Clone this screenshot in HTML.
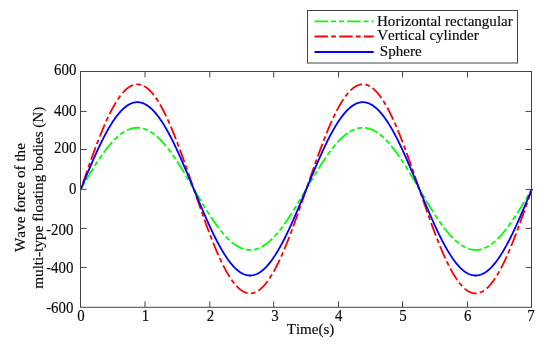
<!DOCTYPE html>
<html><head><meta charset="utf-8"><title>Wave force</title>
<style>html,body{margin:0;padding:0;background:#fff}svg{display:block}text{font-family:"Liberation Serif","Times New Roman",serif;font-size:16px;font-kerning:none;fill:#0a0a0a;stroke:#0a0a0a;stroke-width:0.15px}</style></head><body>
<svg width="550" height="344" viewBox="0 0 550 344">
<rect width="550" height="344" fill="#fff"/>
<g fill="none" stroke-width="1.8" stroke-linejoin="round">
<path d="M80.95,188.85 L81.59,187.75 L82.24,186.66 L82.88,185.56 L83.53,184.47 L84.17,183.37 L84.82,182.28 L85.46,181.19 L86.10,180.10 L86.75,179.02 L87.39,177.94 L88.04,176.86 L88.68,175.79 L89.33,174.72 L89.97,173.65 L90.61,172.59 L91.26,171.54 L91.90,170.49 L92.55,169.44 L93.19,168.41 L93.84,167.38 L94.48,166.35 L95.12,165.34 L95.77,164.33 L96.41,163.33 L97.06,162.33 L97.70,161.35 L98.35,160.38 L98.99,159.41 L99.63,158.45 L100.28,157.51 L100.92,156.57 L101.57,155.64 L102.21,154.73 L102.86,153.82 L103.50,152.93 L104.14,152.05 L104.79,151.18 L105.43,150.32 L106.08,149.47 L106.72,148.64 L107.37,147.82 L108.01,147.02 L108.65,146.22 L109.30,145.44 L109.94,144.68 L110.59,143.93 L111.23,143.19 L111.88,142.47 L112.52,141.76 L113.16,141.07 L113.81,140.39 L114.45,139.73 L115.10,139.09 L115.74,138.46 L116.39,137.85 L117.03,137.25 L117.67,136.67 L118.32,136.11 L118.96,135.56 L119.61,135.04 L120.25,134.52 L120.90,134.03 L121.54,133.55 L122.18,133.10 L122.83,132.66 L123.47,132.23 L124.12,131.83 L124.76,131.44 L125.41,131.08 L126.05,130.73 L126.69,130.40 L127.34,130.09 L127.98,129.80 L128.63,129.52 L129.27,129.27 L129.92,129.04 L130.56,128.82 L131.20,128.63 L131.85,128.45 L132.49,128.29 L133.14,128.15 L133.78,128.04 L134.43,127.94 L135.07,127.86 L135.71,127.80 L136.36,127.76 L137.00,127.74 L137.65,127.74 L138.29,127.76 L138.94,127.80 L139.58,127.86 L140.22,127.94 L140.87,128.04 L141.51,128.15 L142.16,128.29 L142.80,128.45 L143.45,128.63 L144.09,128.82 L144.73,129.04 L145.38,129.27 L146.02,129.52 L146.67,129.80 L147.31,130.09 L147.96,130.40 L148.60,130.73 L149.24,131.08 L149.89,131.44 L150.53,131.83 L151.18,132.23 L151.82,132.66 L152.47,133.10 L153.11,133.55 L153.75,134.03 L154.40,134.52 L155.04,135.04 L155.69,135.56 L156.33,136.11 L156.98,136.67 L157.62,137.25 L158.26,137.85 L158.91,138.46 L159.55,139.09 L160.20,139.73 L160.84,140.39 L161.49,141.07 L162.13,141.76 L162.77,142.47 L163.42,143.19 L164.06,143.93 L164.71,144.68 L165.35,145.44 L166.00,146.22 L166.64,147.02 L167.28,147.82 L167.93,148.64 L168.57,149.47 L169.22,150.32 L169.86,151.18 L170.51,152.05 L171.15,152.93 L171.79,153.82 L172.44,154.73 L173.08,155.64 L173.73,156.57 L174.37,157.51 L175.02,158.45 L175.66,159.41 L176.30,160.38 L176.95,161.35 L177.59,162.33 L178.24,163.33 L178.88,164.33 L179.53,165.34 L180.17,166.35 L180.81,167.38 L181.46,168.41 L182.10,169.44 L182.75,170.49 L183.39,171.54 L184.04,172.59 L184.68,173.65 L185.32,174.72 L185.97,175.79 L186.61,176.86 L187.26,177.94 L187.90,179.02 L188.55,180.10 L189.19,181.19 L189.83,182.28 L190.48,183.37 L191.12,184.47 L191.77,185.56 L192.41,186.66 L193.06,187.75 L193.70,188.85 L194.34,189.95 L194.99,191.04 L195.63,192.14 L196.28,193.23 L196.92,194.33 L197.57,195.42 L198.21,196.51 L198.85,197.60 L199.50,198.68 L200.14,199.76 L200.79,200.84 L201.43,201.91 L202.08,202.98 L202.72,204.05 L203.36,205.11 L204.01,206.16 L204.65,207.21 L205.30,208.26 L205.94,209.29 L206.59,210.32 L207.23,211.35 L207.87,212.36 L208.52,213.37 L209.16,214.37 L209.81,215.37 L210.45,216.35 L211.10,217.32 L211.74,218.29 L212.38,219.25 L213.03,220.19 L213.67,221.13 L214.32,222.06 L214.96,222.97 L215.61,223.88 L216.25,224.77 L216.89,225.65 L217.54,226.52 L218.18,227.38 L218.83,228.23 L219.47,229.06 L220.12,229.88 L220.76,230.68 L221.40,231.48 L222.05,232.26 L222.69,233.02 L223.34,233.77 L223.98,234.51 L224.63,235.23 L225.27,235.94 L225.91,236.63 L226.56,237.31 L227.20,237.97 L227.85,238.61 L228.49,239.24 L229.14,239.85 L229.78,240.45 L230.42,241.03 L231.07,241.59 L231.71,242.14 L232.36,242.66 L233.00,243.18 L233.65,243.67 L234.29,244.15 L234.93,244.60 L235.58,245.04 L236.22,245.47 L236.87,245.87 L237.51,246.26 L238.16,246.62 L238.80,246.97 L239.44,247.30 L240.09,247.61 L240.73,247.90 L241.38,248.18 L242.02,248.43 L242.67,248.66 L243.31,248.88 L243.95,249.07 L244.60,249.25 L245.24,249.41 L245.89,249.55 L246.53,249.66 L247.18,249.76 L247.82,249.84 L248.46,249.90 L249.11,249.94 L249.75,249.96 L250.40,249.96 L251.04,249.94 L251.69,249.90 L252.33,249.84 L252.97,249.76 L253.62,249.66 L254.26,249.55 L254.91,249.41 L255.55,249.25 L256.20,249.07 L256.84,248.88 L257.48,248.66 L258.13,248.43 L258.77,248.18 L259.42,247.90 L260.06,247.61 L260.71,247.30 L261.35,246.97 L261.99,246.62 L262.64,246.26 L263.28,245.87 L263.93,245.47 L264.57,245.04 L265.22,244.60 L265.86,244.15 L266.50,243.67 L267.15,243.18 L267.79,242.66 L268.44,242.14 L269.08,241.59 L269.73,241.03 L270.37,240.45 L271.01,239.85 L271.66,239.24 L272.30,238.61 L272.95,237.97 L273.59,237.31 L274.24,236.63 L274.88,235.94 L275.52,235.23 L276.17,234.51 L276.81,233.77 L277.46,233.02 L278.10,232.26 L278.75,231.48 L279.39,230.68 L280.03,229.88 L280.68,229.06 L281.32,228.23 L281.97,227.38 L282.61,226.52 L283.26,225.65 L283.90,224.77 L284.54,223.88 L285.19,222.97 L285.83,222.06 L286.48,221.13 L287.12,220.19 L287.77,219.25 L288.41,218.29 L289.05,217.32 L289.70,216.35 L290.34,215.37 L290.99,214.37 L291.63,213.37 L292.28,212.36 L292.92,211.35 L293.56,210.32 L294.21,209.29 L294.85,208.26 L295.50,207.21 L296.14,206.16 L296.79,205.11 L297.43,204.05 L298.07,202.98 L298.72,201.91 L299.36,200.84 L300.01,199.76 L300.65,198.68 L301.30,197.60 L301.94,196.51 L302.58,195.42 L303.23,194.33 L303.87,193.23 L304.52,192.14 L305.16,191.04 L305.81,189.95 L306.45,188.85 L307.09,187.75 L307.74,186.66 L308.38,185.56 L309.03,184.47 L309.67,183.37 L310.32,182.28 L310.96,181.19 L311.60,180.10 L312.25,179.02 L312.89,177.94 L313.54,176.86 L314.18,175.79 L314.83,174.72 L315.47,173.65 L316.11,172.59 L316.76,171.54 L317.40,170.49 L318.05,169.44 L318.69,168.41 L319.34,167.38 L319.98,166.35 L320.62,165.34 L321.27,164.33 L321.91,163.33 L322.56,162.33 L323.20,161.35 L323.85,160.38 L324.49,159.41 L325.13,158.45 L325.78,157.51 L326.42,156.57 L327.07,155.64 L327.71,154.73 L328.36,153.82 L329.00,152.93 L329.64,152.05 L330.29,151.18 L330.93,150.32 L331.58,149.47 L332.22,148.64 L332.87,147.82 L333.51,147.02 L334.15,146.22 L334.80,145.44 L335.44,144.68 L336.09,143.93 L336.73,143.19 L337.38,142.47 L338.02,141.76 L338.66,141.07 L339.31,140.39 L339.95,139.73 L340.60,139.09 L341.24,138.46 L341.89,137.85 L342.53,137.25 L343.17,136.67 L343.82,136.11 L344.46,135.56 L345.11,135.04 L345.75,134.52 L346.40,134.03 L347.04,133.55 L347.68,133.10 L348.33,132.66 L348.97,132.23 L349.62,131.83 L350.26,131.44 L350.91,131.08 L351.55,130.73 L352.19,130.40 L352.84,130.09 L353.48,129.80 L354.13,129.52 L354.77,129.27 L355.42,129.04 L356.06,128.82 L356.70,128.63 L357.35,128.45 L357.99,128.29 L358.64,128.15 L359.28,128.04 L359.93,127.94 L360.57,127.86 L361.21,127.80 L361.86,127.76 L362.50,127.74 L363.15,127.74 L363.79,127.76 L364.44,127.80 L365.08,127.86 L365.72,127.94 L366.37,128.04 L367.01,128.15 L367.66,128.29 L368.30,128.45 L368.95,128.63 L369.59,128.82 L370.23,129.04 L370.88,129.27 L371.52,129.52 L372.17,129.80 L372.81,130.09 L373.46,130.40 L374.10,130.73 L374.74,131.08 L375.39,131.44 L376.03,131.83 L376.68,132.23 L377.32,132.66 L377.97,133.10 L378.61,133.55 L379.25,134.03 L379.90,134.52 L380.54,135.04 L381.19,135.56 L381.83,136.11 L382.48,136.67 L383.12,137.25 L383.76,137.85 L384.41,138.46 L385.05,139.09 L385.70,139.73 L386.34,140.39 L386.99,141.07 L387.63,141.76 L388.27,142.47 L388.92,143.19 L389.56,143.93 L390.21,144.68 L390.85,145.44 L391.50,146.22 L392.14,147.02 L392.78,147.82 L393.43,148.64 L394.07,149.47 L394.72,150.32 L395.36,151.18 L396.01,152.05 L396.65,152.93 L397.29,153.82 L397.94,154.73 L398.58,155.64 L399.23,156.57 L399.87,157.51 L400.52,158.45 L401.16,159.41 L401.80,160.38 L402.45,161.35 L403.09,162.33 L403.74,163.33 L404.38,164.33 L405.03,165.34 L405.67,166.35 L406.31,167.38 L406.96,168.41 L407.60,169.44 L408.25,170.49 L408.89,171.54 L409.54,172.59 L410.18,173.65 L410.82,174.72 L411.47,175.79 L412.11,176.86 L412.76,177.94 L413.40,179.02 L414.05,180.10 L414.69,181.19 L415.33,182.28 L415.98,183.37 L416.62,184.47 L417.27,185.56 L417.91,186.66 L418.56,187.75 L419.20,188.85 L419.84,189.95 L420.49,191.04 L421.13,192.14 L421.78,193.23 L422.42,194.33 L423.07,195.42 L423.71,196.51 L424.35,197.60 L425.00,198.68 L425.64,199.76 L426.29,200.84 L426.93,201.91 L427.58,202.98 L428.22,204.05 L428.86,205.11 L429.51,206.16 L430.15,207.21 L430.80,208.26 L431.44,209.29 L432.09,210.32 L432.73,211.35 L433.37,212.36 L434.02,213.37 L434.66,214.37 L435.31,215.37 L435.95,216.35 L436.60,217.32 L437.24,218.29 L437.88,219.25 L438.53,220.19 L439.17,221.13 L439.82,222.06 L440.46,222.97 L441.11,223.88 L441.75,224.77 L442.39,225.65 L443.04,226.52 L443.68,227.38 L444.33,228.23 L444.97,229.06 L445.62,229.88 L446.26,230.68 L446.90,231.48 L447.55,232.26 L448.19,233.02 L448.84,233.77 L449.48,234.51 L450.13,235.23 L450.77,235.94 L451.41,236.63 L452.06,237.31 L452.70,237.97 L453.35,238.61 L453.99,239.24 L454.64,239.85 L455.28,240.45 L455.92,241.03 L456.57,241.59 L457.21,242.14 L457.86,242.66 L458.50,243.18 L459.15,243.67 L459.79,244.15 L460.43,244.60 L461.08,245.04 L461.72,245.47 L462.37,245.87 L463.01,246.26 L463.66,246.62 L464.30,246.97 L464.94,247.30 L465.59,247.61 L466.23,247.90 L466.88,248.18 L467.52,248.43 L468.17,248.66 L468.81,248.88 L469.45,249.07 L470.10,249.25 L470.74,249.41 L471.39,249.55 L472.03,249.66 L472.68,249.76 L473.32,249.84 L473.96,249.90 L474.61,249.94 L475.25,249.96 L475.90,249.96 L476.54,249.94 L477.19,249.90 L477.83,249.84 L478.47,249.76 L479.12,249.66 L479.76,249.55 L480.41,249.41 L481.05,249.25 L481.70,249.07 L482.34,248.88 L482.98,248.66 L483.63,248.43 L484.27,248.18 L484.92,247.90 L485.56,247.61 L486.21,247.30 L486.85,246.97 L487.49,246.62 L488.14,246.26 L488.78,245.87 L489.43,245.47 L490.07,245.04 L490.72,244.60 L491.36,244.15 L492.00,243.67 L492.65,243.18 L493.29,242.66 L493.94,242.14 L494.58,241.59 L495.23,241.03 L495.87,240.45 L496.51,239.85 L497.16,239.24 L497.80,238.61 L498.45,237.97 L499.09,237.31 L499.74,236.63 L500.38,235.94 L501.02,235.23 L501.67,234.51 L502.31,233.77 L502.96,233.02 L503.60,232.26 L504.25,231.48 L504.89,230.68 L505.53,229.88 L506.18,229.06 L506.82,228.23 L507.47,227.38 L508.11,226.52 L508.76,225.65 L509.40,224.77 L510.04,223.88 L510.69,222.97 L511.33,222.06 L511.98,221.13 L512.62,220.19 L513.27,219.25 L513.91,218.29 L514.55,217.32 L515.20,216.35 L515.84,215.37 L516.49,214.37 L517.13,213.37 L517.78,212.36 L518.42,211.35 L519.06,210.32 L519.71,209.29 L520.35,208.26 L521.00,207.21 L521.64,206.16 L522.29,205.11 L522.93,204.05 L523.57,202.98 L524.22,201.91 L524.86,200.84 L525.51,199.76 L526.15,198.68 L526.80,197.60 L527.44,196.51 L528.08,195.42 L528.73,194.33 L529.37,193.23 L530.02,192.14 L530.66,191.04 L531.31,189.95 L531.95,188.85" stroke="#00ff00" stroke-dasharray="13.5 3 5 3 5 3" stroke-dashoffset="22.16"/>
<path d="M80.95,188.85 L81.59,186.97 L82.24,185.10 L82.88,183.22 L83.53,181.35 L84.17,179.48 L84.82,177.61 L85.46,175.75 L86.10,173.89 L86.75,172.03 L87.39,170.18 L88.04,168.34 L88.68,166.50 L89.33,164.67 L89.97,162.85 L90.61,161.04 L91.26,159.23 L91.90,157.44 L92.55,155.65 L93.19,153.88 L93.84,152.12 L94.48,150.37 L95.12,148.63 L95.77,146.90 L96.41,145.19 L97.06,143.49 L97.70,141.81 L98.35,140.14 L98.99,138.49 L99.63,136.85 L100.28,135.23 L100.92,133.63 L101.57,132.05 L102.21,130.48 L102.86,128.93 L103.50,127.40 L104.14,125.90 L104.79,124.41 L105.43,122.94 L106.08,121.49 L106.72,120.07 L107.37,118.67 L108.01,117.29 L108.65,115.93 L109.30,114.60 L109.94,113.29 L110.59,112.01 L111.23,110.75 L111.88,109.51 L112.52,108.30 L113.16,107.12 L113.81,105.96 L114.45,104.83 L115.10,103.73 L115.74,102.65 L116.39,101.61 L117.03,100.59 L117.67,99.59 L118.32,98.63 L118.96,97.70 L119.61,96.79 L120.25,95.92 L120.90,95.08 L121.54,94.26 L122.18,93.48 L122.83,92.72 L123.47,92.00 L124.12,91.31 L124.76,90.65 L125.41,90.02 L126.05,89.43 L126.69,88.86 L127.34,88.33 L127.98,87.83 L128.63,87.37 L129.27,86.93 L129.92,86.53 L130.56,86.16 L131.20,85.83 L131.85,85.53 L132.49,85.26 L133.14,85.02 L133.78,84.82 L134.43,84.65 L135.07,84.52 L135.71,84.42 L136.36,84.35 L137.00,84.32 L137.65,84.32 L138.29,84.35 L138.94,84.42 L139.58,84.52 L140.22,84.65 L140.87,84.82 L141.51,85.02 L142.16,85.26 L142.80,85.53 L143.45,85.83 L144.09,86.16 L144.73,86.53 L145.38,86.93 L146.02,87.37 L146.67,87.83 L147.31,88.33 L147.96,88.86 L148.60,89.43 L149.24,90.02 L149.89,90.65 L150.53,91.31 L151.18,92.00 L151.82,92.72 L152.47,93.48 L153.11,94.26 L153.75,95.08 L154.40,95.92 L155.04,96.79 L155.69,97.70 L156.33,98.63 L156.98,99.59 L157.62,100.59 L158.26,101.61 L158.91,102.65 L159.55,103.73 L160.20,104.83 L160.84,105.96 L161.49,107.12 L162.13,108.30 L162.77,109.51 L163.42,110.75 L164.06,112.01 L164.71,113.29 L165.35,114.60 L166.00,115.93 L166.64,117.29 L167.28,118.67 L167.93,120.07 L168.57,121.49 L169.22,122.94 L169.86,124.41 L170.51,125.90 L171.15,127.40 L171.79,128.93 L172.44,130.48 L173.08,132.05 L173.73,133.63 L174.37,135.23 L175.02,136.85 L175.66,138.49 L176.30,140.14 L176.95,141.81 L177.59,143.49 L178.24,145.19 L178.88,146.90 L179.53,148.63 L180.17,150.37 L180.81,152.12 L181.46,153.88 L182.10,155.65 L182.75,157.44 L183.39,159.23 L184.04,161.04 L184.68,162.85 L185.32,164.67 L185.97,166.50 L186.61,168.34 L187.26,170.18 L187.90,172.03 L188.55,173.89 L189.19,175.75 L189.83,177.61 L190.48,179.48 L191.12,181.35 L191.77,183.22 L192.41,185.10 L193.06,186.97 L193.70,188.85 L194.34,190.73 L194.99,192.60 L195.63,194.48 L196.28,196.35 L196.92,198.22 L197.57,200.09 L198.21,201.95 L198.85,203.81 L199.50,205.67 L200.14,207.52 L200.79,209.36 L201.43,211.20 L202.08,213.03 L202.72,214.85 L203.36,216.66 L204.01,218.47 L204.65,220.26 L205.30,222.05 L205.94,223.82 L206.59,225.58 L207.23,227.33 L207.87,229.07 L208.52,230.80 L209.16,232.51 L209.81,234.21 L210.45,235.89 L211.10,237.56 L211.74,239.21 L212.38,240.85 L213.03,242.47 L213.67,244.07 L214.32,245.65 L214.96,247.22 L215.61,248.77 L216.25,250.30 L216.89,251.80 L217.54,253.29 L218.18,254.76 L218.83,256.21 L219.47,257.63 L220.12,259.03 L220.76,260.41 L221.40,261.77 L222.05,263.10 L222.69,264.41 L223.34,265.69 L223.98,266.95 L224.63,268.19 L225.27,269.40 L225.91,270.58 L226.56,271.74 L227.20,272.87 L227.85,273.97 L228.49,275.05 L229.14,276.09 L229.78,277.11 L230.42,278.11 L231.07,279.07 L231.71,280.00 L232.36,280.91 L233.00,281.78 L233.65,282.62 L234.29,283.44 L234.93,284.22 L235.58,284.98 L236.22,285.70 L236.87,286.39 L237.51,287.05 L238.16,287.68 L238.80,288.27 L239.44,288.84 L240.09,289.37 L240.73,289.87 L241.38,290.33 L242.02,290.77 L242.67,291.17 L243.31,291.54 L243.95,291.87 L244.60,292.17 L245.24,292.44 L245.89,292.68 L246.53,292.88 L247.18,293.05 L247.82,293.18 L248.46,293.28 L249.11,293.35 L249.75,293.38 L250.40,293.38 L251.04,293.35 L251.69,293.28 L252.33,293.18 L252.97,293.05 L253.62,292.88 L254.26,292.68 L254.91,292.44 L255.55,292.17 L256.20,291.87 L256.84,291.54 L257.48,291.17 L258.13,290.77 L258.77,290.33 L259.42,289.87 L260.06,289.37 L260.71,288.84 L261.35,288.27 L261.99,287.68 L262.64,287.05 L263.28,286.39 L263.93,285.70 L264.57,284.98 L265.22,284.22 L265.86,283.44 L266.50,282.62 L267.15,281.78 L267.79,280.91 L268.44,280.00 L269.08,279.07 L269.73,278.11 L270.37,277.11 L271.01,276.09 L271.66,275.05 L272.30,273.97 L272.95,272.87 L273.59,271.74 L274.24,270.58 L274.88,269.40 L275.52,268.19 L276.17,266.95 L276.81,265.69 L277.46,264.41 L278.10,263.10 L278.75,261.77 L279.39,260.41 L280.03,259.03 L280.68,257.63 L281.32,256.21 L281.97,254.76 L282.61,253.29 L283.26,251.80 L283.90,250.30 L284.54,248.77 L285.19,247.22 L285.83,245.65 L286.48,244.07 L287.12,242.47 L287.77,240.85 L288.41,239.21 L289.05,237.56 L289.70,235.89 L290.34,234.21 L290.99,232.51 L291.63,230.80 L292.28,229.07 L292.92,227.33 L293.56,225.58 L294.21,223.82 L294.85,222.05 L295.50,220.26 L296.14,218.47 L296.79,216.66 L297.43,214.85 L298.07,213.03 L298.72,211.20 L299.36,209.36 L300.01,207.52 L300.65,205.67 L301.30,203.81 L301.94,201.95 L302.58,200.09 L303.23,198.22 L303.87,196.35 L304.52,194.48 L305.16,192.60 L305.81,190.73 L306.45,188.85 L307.09,186.97 L307.74,185.10 L308.38,183.22 L309.03,181.35 L309.67,179.48 L310.32,177.61 L310.96,175.75 L311.60,173.89 L312.25,172.03 L312.89,170.18 L313.54,168.34 L314.18,166.50 L314.83,164.67 L315.47,162.85 L316.11,161.04 L316.76,159.23 L317.40,157.44 L318.05,155.65 L318.69,153.88 L319.34,152.12 L319.98,150.37 L320.62,148.63 L321.27,146.90 L321.91,145.19 L322.56,143.49 L323.20,141.81 L323.85,140.14 L324.49,138.49 L325.13,136.85 L325.78,135.23 L326.42,133.63 L327.07,132.05 L327.71,130.48 L328.36,128.93 L329.00,127.40 L329.64,125.90 L330.29,124.41 L330.93,122.94 L331.58,121.49 L332.22,120.07 L332.87,118.67 L333.51,117.29 L334.15,115.93 L334.80,114.60 L335.44,113.29 L336.09,112.01 L336.73,110.75 L337.38,109.51 L338.02,108.30 L338.66,107.12 L339.31,105.96 L339.95,104.83 L340.60,103.73 L341.24,102.65 L341.89,101.61 L342.53,100.59 L343.17,99.59 L343.82,98.63 L344.46,97.70 L345.11,96.79 L345.75,95.92 L346.40,95.08 L347.04,94.26 L347.68,93.48 L348.33,92.72 L348.97,92.00 L349.62,91.31 L350.26,90.65 L350.91,90.02 L351.55,89.43 L352.19,88.86 L352.84,88.33 L353.48,87.83 L354.13,87.37 L354.77,86.93 L355.42,86.53 L356.06,86.16 L356.70,85.83 L357.35,85.53 L357.99,85.26 L358.64,85.02 L359.28,84.82 L359.93,84.65 L360.57,84.52 L361.21,84.42 L361.86,84.35 L362.50,84.32 L363.15,84.32 L363.79,84.35 L364.44,84.42 L365.08,84.52 L365.72,84.65 L366.37,84.82 L367.01,85.02 L367.66,85.26 L368.30,85.53 L368.95,85.83 L369.59,86.16 L370.23,86.53 L370.88,86.93 L371.52,87.37 L372.17,87.83 L372.81,88.33 L373.46,88.86 L374.10,89.43 L374.74,90.02 L375.39,90.65 L376.03,91.31 L376.68,92.00 L377.32,92.72 L377.97,93.48 L378.61,94.26 L379.25,95.08 L379.90,95.92 L380.54,96.79 L381.19,97.70 L381.83,98.63 L382.48,99.59 L383.12,100.59 L383.76,101.61 L384.41,102.65 L385.05,103.73 L385.70,104.83 L386.34,105.96 L386.99,107.12 L387.63,108.30 L388.27,109.51 L388.92,110.75 L389.56,112.01 L390.21,113.29 L390.85,114.60 L391.50,115.93 L392.14,117.29 L392.78,118.67 L393.43,120.07 L394.07,121.49 L394.72,122.94 L395.36,124.41 L396.01,125.90 L396.65,127.40 L397.29,128.93 L397.94,130.48 L398.58,132.05 L399.23,133.63 L399.87,135.23 L400.52,136.85 L401.16,138.49 L401.80,140.14 L402.45,141.81 L403.09,143.49 L403.74,145.19 L404.38,146.90 L405.03,148.63 L405.67,150.37 L406.31,152.12 L406.96,153.88 L407.60,155.65 L408.25,157.44 L408.89,159.23 L409.54,161.04 L410.18,162.85 L410.82,164.67 L411.47,166.50 L412.11,168.34 L412.76,170.18 L413.40,172.03 L414.05,173.89 L414.69,175.75 L415.33,177.61 L415.98,179.48 L416.62,181.35 L417.27,183.22 L417.91,185.10 L418.56,186.97 L419.20,188.85 L419.84,190.73 L420.49,192.60 L421.13,194.48 L421.78,196.35 L422.42,198.22 L423.07,200.09 L423.71,201.95 L424.35,203.81 L425.00,205.67 L425.64,207.52 L426.29,209.36 L426.93,211.20 L427.58,213.03 L428.22,214.85 L428.86,216.66 L429.51,218.47 L430.15,220.26 L430.80,222.05 L431.44,223.82 L432.09,225.58 L432.73,227.33 L433.37,229.07 L434.02,230.80 L434.66,232.51 L435.31,234.21 L435.95,235.89 L436.60,237.56 L437.24,239.21 L437.88,240.85 L438.53,242.47 L439.17,244.07 L439.82,245.65 L440.46,247.22 L441.11,248.77 L441.75,250.30 L442.39,251.80 L443.04,253.29 L443.68,254.76 L444.33,256.21 L444.97,257.63 L445.62,259.03 L446.26,260.41 L446.90,261.77 L447.55,263.10 L448.19,264.41 L448.84,265.69 L449.48,266.95 L450.13,268.19 L450.77,269.40 L451.41,270.58 L452.06,271.74 L452.70,272.87 L453.35,273.97 L453.99,275.05 L454.64,276.09 L455.28,277.11 L455.92,278.11 L456.57,279.07 L457.21,280.00 L457.86,280.91 L458.50,281.78 L459.15,282.62 L459.79,283.44 L460.43,284.22 L461.08,284.98 L461.72,285.70 L462.37,286.39 L463.01,287.05 L463.66,287.68 L464.30,288.27 L464.94,288.84 L465.59,289.37 L466.23,289.87 L466.88,290.33 L467.52,290.77 L468.17,291.17 L468.81,291.54 L469.45,291.87 L470.10,292.17 L470.74,292.44 L471.39,292.68 L472.03,292.88 L472.68,293.05 L473.32,293.18 L473.96,293.28 L474.61,293.35 L475.25,293.38 L475.90,293.38 L476.54,293.35 L477.19,293.28 L477.83,293.18 L478.47,293.05 L479.12,292.88 L479.76,292.68 L480.41,292.44 L481.05,292.17 L481.70,291.87 L482.34,291.54 L482.98,291.17 L483.63,290.77 L484.27,290.33 L484.92,289.87 L485.56,289.37 L486.21,288.84 L486.85,288.27 L487.49,287.68 L488.14,287.05 L488.78,286.39 L489.43,285.70 L490.07,284.98 L490.72,284.22 L491.36,283.44 L492.00,282.62 L492.65,281.78 L493.29,280.91 L493.94,280.00 L494.58,279.07 L495.23,278.11 L495.87,277.11 L496.51,276.09 L497.16,275.05 L497.80,273.97 L498.45,272.87 L499.09,271.74 L499.74,270.58 L500.38,269.40 L501.02,268.19 L501.67,266.95 L502.31,265.69 L502.96,264.41 L503.60,263.10 L504.25,261.77 L504.89,260.41 L505.53,259.03 L506.18,257.63 L506.82,256.21 L507.47,254.76 L508.11,253.29 L508.76,251.80 L509.40,250.30 L510.04,248.77 L510.69,247.22 L511.33,245.65 L511.98,244.07 L512.62,242.47 L513.27,240.85 L513.91,239.21 L514.55,237.56 L515.20,235.89 L515.84,234.21 L516.49,232.51 L517.13,230.80 L517.78,229.07 L518.42,227.33 L519.06,225.58 L519.71,223.82 L520.35,222.05 L521.00,220.26 L521.64,218.47 L522.29,216.66 L522.93,214.85 L523.57,213.03 L524.22,211.20 L524.86,209.36 L525.51,207.52 L526.15,205.67 L526.80,203.81 L527.44,201.95 L528.08,200.09 L528.73,198.22 L529.37,196.35 L530.02,194.48 L530.66,192.60 L531.31,190.73 L531.95,188.85" stroke="#ff0000" stroke-dasharray="13.4 3.3 4.7 3.3" stroke-dashoffset="18.64"/>
<path d="M80.95,188.85 L81.59,187.29 L82.24,185.74 L82.88,184.19 L83.53,182.63 L84.17,181.08 L84.82,179.53 L85.46,177.99 L86.10,176.45 L86.75,174.91 L87.39,173.38 L88.04,171.85 L88.68,170.33 L89.33,168.81 L89.97,167.30 L90.61,165.80 L91.26,164.30 L91.90,162.81 L92.55,161.33 L93.19,159.86 L93.84,158.40 L94.48,156.95 L95.12,155.51 L95.77,154.08 L96.41,152.66 L97.06,151.25 L97.70,149.86 L98.35,148.47 L98.99,147.10 L99.63,145.75 L100.28,144.40 L100.92,143.08 L101.57,141.76 L102.21,140.46 L102.86,139.18 L103.50,137.91 L104.14,136.66 L104.79,135.43 L105.43,134.21 L106.08,133.02 L106.72,131.84 L107.37,130.67 L108.01,129.53 L108.65,128.41 L109.30,127.30 L109.94,126.22 L110.59,125.15 L111.23,124.11 L111.88,123.08 L112.52,122.08 L113.16,121.10 L113.81,120.14 L114.45,119.20 L115.10,118.29 L115.74,117.40 L116.39,116.53 L117.03,115.68 L117.67,114.86 L118.32,114.06 L118.96,113.29 L119.61,112.54 L120.25,111.82 L120.90,111.12 L121.54,110.44 L122.18,109.79 L122.83,109.17 L123.47,108.57 L124.12,108.00 L124.76,107.45 L125.41,106.93 L126.05,106.43 L126.69,105.97 L127.34,105.53 L127.98,105.11 L128.63,104.73 L129.27,104.37 L129.92,104.03 L130.56,103.73 L131.20,103.45 L131.85,103.20 L132.49,102.98 L133.14,102.78 L133.78,102.62 L134.43,102.48 L135.07,102.36 L135.71,102.28 L136.36,102.22 L137.00,102.20 L137.65,102.20 L138.29,102.22 L138.94,102.28 L139.58,102.36 L140.22,102.48 L140.87,102.62 L141.51,102.78 L142.16,102.98 L142.80,103.20 L143.45,103.45 L144.09,103.73 L144.73,104.03 L145.38,104.37 L146.02,104.73 L146.67,105.11 L147.31,105.53 L147.96,105.97 L148.60,106.43 L149.24,106.93 L149.89,107.45 L150.53,108.00 L151.18,108.57 L151.82,109.17 L152.47,109.79 L153.11,110.44 L153.75,111.12 L154.40,111.82 L155.04,112.54 L155.69,113.29 L156.33,114.06 L156.98,114.86 L157.62,115.68 L158.26,116.53 L158.91,117.40 L159.55,118.29 L160.20,119.20 L160.84,120.14 L161.49,121.10 L162.13,122.08 L162.77,123.08 L163.42,124.11 L164.06,125.15 L164.71,126.22 L165.35,127.30 L166.00,128.41 L166.64,129.53 L167.28,130.67 L167.93,131.84 L168.57,133.02 L169.22,134.21 L169.86,135.43 L170.51,136.66 L171.15,137.91 L171.79,139.18 L172.44,140.46 L173.08,141.76 L173.73,143.08 L174.37,144.40 L175.02,145.75 L175.66,147.10 L176.30,148.47 L176.95,149.86 L177.59,151.25 L178.24,152.66 L178.88,154.08 L179.53,155.51 L180.17,156.95 L180.81,158.40 L181.46,159.86 L182.10,161.33 L182.75,162.81 L183.39,164.30 L184.04,165.80 L184.68,167.30 L185.32,168.81 L185.97,170.33 L186.61,171.85 L187.26,173.38 L187.90,174.91 L188.55,176.45 L189.19,177.99 L189.83,179.53 L190.48,181.08 L191.12,182.63 L191.77,184.19 L192.41,185.74 L193.06,187.29 L193.70,188.85 L194.34,190.41 L194.99,191.96 L195.63,193.51 L196.28,195.07 L196.92,196.62 L197.57,198.17 L198.21,199.71 L198.85,201.25 L199.50,202.79 L200.14,204.32 L200.79,205.85 L201.43,207.37 L202.08,208.89 L202.72,210.40 L203.36,211.90 L204.01,213.40 L204.65,214.89 L205.30,216.37 L205.94,217.84 L206.59,219.30 L207.23,220.75 L207.87,222.19 L208.52,223.62 L209.16,225.04 L209.81,226.45 L210.45,227.84 L211.10,229.23 L211.74,230.60 L212.38,231.95 L213.03,233.30 L213.67,234.62 L214.32,235.94 L214.96,237.24 L215.61,238.52 L216.25,239.79 L216.89,241.04 L217.54,242.27 L218.18,243.49 L218.83,244.68 L219.47,245.86 L220.12,247.03 L220.76,248.17 L221.40,249.29 L222.05,250.40 L222.69,251.48 L223.34,252.55 L223.98,253.59 L224.63,254.62 L225.27,255.62 L225.91,256.60 L226.56,257.56 L227.20,258.50 L227.85,259.41 L228.49,260.30 L229.14,261.17 L229.78,262.02 L230.42,262.84 L231.07,263.64 L231.71,264.41 L232.36,265.16 L233.00,265.88 L233.65,266.58 L234.29,267.26 L234.93,267.91 L235.58,268.53 L236.22,269.13 L236.87,269.70 L237.51,270.25 L238.16,270.77 L238.80,271.27 L239.44,271.73 L240.09,272.17 L240.73,272.59 L241.38,272.97 L242.02,273.33 L242.67,273.67 L243.31,273.97 L243.95,274.25 L244.60,274.50 L245.24,274.72 L245.89,274.92 L246.53,275.08 L247.18,275.22 L247.82,275.34 L248.46,275.42 L249.11,275.48 L249.75,275.50 L250.40,275.50 L251.04,275.48 L251.69,275.42 L252.33,275.34 L252.97,275.22 L253.62,275.08 L254.26,274.92 L254.91,274.72 L255.55,274.50 L256.20,274.25 L256.84,273.97 L257.48,273.67 L258.13,273.33 L258.77,272.97 L259.42,272.59 L260.06,272.17 L260.71,271.73 L261.35,271.27 L261.99,270.77 L262.64,270.25 L263.28,269.70 L263.93,269.13 L264.57,268.53 L265.22,267.91 L265.86,267.26 L266.50,266.58 L267.15,265.88 L267.79,265.16 L268.44,264.41 L269.08,263.64 L269.73,262.84 L270.37,262.02 L271.01,261.17 L271.66,260.30 L272.30,259.41 L272.95,258.50 L273.59,257.56 L274.24,256.60 L274.88,255.62 L275.52,254.62 L276.17,253.59 L276.81,252.55 L277.46,251.48 L278.10,250.40 L278.75,249.29 L279.39,248.17 L280.03,247.03 L280.68,245.86 L281.32,244.68 L281.97,243.49 L282.61,242.27 L283.26,241.04 L283.90,239.79 L284.54,238.52 L285.19,237.24 L285.83,235.94 L286.48,234.62 L287.12,233.30 L287.77,231.95 L288.41,230.60 L289.05,229.23 L289.70,227.84 L290.34,226.45 L290.99,225.04 L291.63,223.62 L292.28,222.19 L292.92,220.75 L293.56,219.30 L294.21,217.84 L294.85,216.37 L295.50,214.89 L296.14,213.40 L296.79,211.90 L297.43,210.40 L298.07,208.89 L298.72,207.37 L299.36,205.85 L300.01,204.32 L300.65,202.79 L301.30,201.25 L301.94,199.71 L302.58,198.17 L303.23,196.62 L303.87,195.07 L304.52,193.51 L305.16,191.96 L305.81,190.41 L306.45,188.85 L307.09,187.29 L307.74,185.74 L308.38,184.19 L309.03,182.63 L309.67,181.08 L310.32,179.53 L310.96,177.99 L311.60,176.45 L312.25,174.91 L312.89,173.38 L313.54,171.85 L314.18,170.33 L314.83,168.81 L315.47,167.30 L316.11,165.80 L316.76,164.30 L317.40,162.81 L318.05,161.33 L318.69,159.86 L319.34,158.40 L319.98,156.95 L320.62,155.51 L321.27,154.08 L321.91,152.66 L322.56,151.25 L323.20,149.86 L323.85,148.47 L324.49,147.10 L325.13,145.75 L325.78,144.40 L326.42,143.08 L327.07,141.76 L327.71,140.46 L328.36,139.18 L329.00,137.91 L329.64,136.66 L330.29,135.43 L330.93,134.21 L331.58,133.02 L332.22,131.84 L332.87,130.67 L333.51,129.53 L334.15,128.41 L334.80,127.30 L335.44,126.22 L336.09,125.15 L336.73,124.11 L337.38,123.08 L338.02,122.08 L338.66,121.10 L339.31,120.14 L339.95,119.20 L340.60,118.29 L341.24,117.40 L341.89,116.53 L342.53,115.68 L343.17,114.86 L343.82,114.06 L344.46,113.29 L345.11,112.54 L345.75,111.82 L346.40,111.12 L347.04,110.44 L347.68,109.79 L348.33,109.17 L348.97,108.57 L349.62,108.00 L350.26,107.45 L350.91,106.93 L351.55,106.43 L352.19,105.97 L352.84,105.53 L353.48,105.11 L354.13,104.73 L354.77,104.37 L355.42,104.03 L356.06,103.73 L356.70,103.45 L357.35,103.20 L357.99,102.98 L358.64,102.78 L359.28,102.62 L359.93,102.48 L360.57,102.36 L361.21,102.28 L361.86,102.22 L362.50,102.20 L363.15,102.20 L363.79,102.22 L364.44,102.28 L365.08,102.36 L365.72,102.48 L366.37,102.62 L367.01,102.78 L367.66,102.98 L368.30,103.20 L368.95,103.45 L369.59,103.73 L370.23,104.03 L370.88,104.37 L371.52,104.73 L372.17,105.11 L372.81,105.53 L373.46,105.97 L374.10,106.43 L374.74,106.93 L375.39,107.45 L376.03,108.00 L376.68,108.57 L377.32,109.17 L377.97,109.79 L378.61,110.44 L379.25,111.12 L379.90,111.82 L380.54,112.54 L381.19,113.29 L381.83,114.06 L382.48,114.86 L383.12,115.68 L383.76,116.53 L384.41,117.40 L385.05,118.29 L385.70,119.20 L386.34,120.14 L386.99,121.10 L387.63,122.08 L388.27,123.08 L388.92,124.11 L389.56,125.15 L390.21,126.22 L390.85,127.30 L391.50,128.41 L392.14,129.53 L392.78,130.67 L393.43,131.84 L394.07,133.02 L394.72,134.21 L395.36,135.43 L396.01,136.66 L396.65,137.91 L397.29,139.18 L397.94,140.46 L398.58,141.76 L399.23,143.08 L399.87,144.40 L400.52,145.75 L401.16,147.10 L401.80,148.47 L402.45,149.86 L403.09,151.25 L403.74,152.66 L404.38,154.08 L405.03,155.51 L405.67,156.95 L406.31,158.40 L406.96,159.86 L407.60,161.33 L408.25,162.81 L408.89,164.30 L409.54,165.80 L410.18,167.30 L410.82,168.81 L411.47,170.33 L412.11,171.85 L412.76,173.38 L413.40,174.91 L414.05,176.45 L414.69,177.99 L415.33,179.53 L415.98,181.08 L416.62,182.63 L417.27,184.19 L417.91,185.74 L418.56,187.29 L419.20,188.85 L419.84,190.41 L420.49,191.96 L421.13,193.51 L421.78,195.07 L422.42,196.62 L423.07,198.17 L423.71,199.71 L424.35,201.25 L425.00,202.79 L425.64,204.32 L426.29,205.85 L426.93,207.37 L427.58,208.89 L428.22,210.40 L428.86,211.90 L429.51,213.40 L430.15,214.89 L430.80,216.37 L431.44,217.84 L432.09,219.30 L432.73,220.75 L433.37,222.19 L434.02,223.62 L434.66,225.04 L435.31,226.45 L435.95,227.84 L436.60,229.23 L437.24,230.60 L437.88,231.95 L438.53,233.30 L439.17,234.62 L439.82,235.94 L440.46,237.24 L441.11,238.52 L441.75,239.79 L442.39,241.04 L443.04,242.27 L443.68,243.49 L444.33,244.68 L444.97,245.86 L445.62,247.03 L446.26,248.17 L446.90,249.29 L447.55,250.40 L448.19,251.48 L448.84,252.55 L449.48,253.59 L450.13,254.62 L450.77,255.62 L451.41,256.60 L452.06,257.56 L452.70,258.50 L453.35,259.41 L453.99,260.30 L454.64,261.17 L455.28,262.02 L455.92,262.84 L456.57,263.64 L457.21,264.41 L457.86,265.16 L458.50,265.88 L459.15,266.58 L459.79,267.26 L460.43,267.91 L461.08,268.53 L461.72,269.13 L462.37,269.70 L463.01,270.25 L463.66,270.77 L464.30,271.27 L464.94,271.73 L465.59,272.17 L466.23,272.59 L466.88,272.97 L467.52,273.33 L468.17,273.67 L468.81,273.97 L469.45,274.25 L470.10,274.50 L470.74,274.72 L471.39,274.92 L472.03,275.08 L472.68,275.22 L473.32,275.34 L473.96,275.42 L474.61,275.48 L475.25,275.50 L475.90,275.50 L476.54,275.48 L477.19,275.42 L477.83,275.34 L478.47,275.22 L479.12,275.08 L479.76,274.92 L480.41,274.72 L481.05,274.50 L481.70,274.25 L482.34,273.97 L482.98,273.67 L483.63,273.33 L484.27,272.97 L484.92,272.59 L485.56,272.17 L486.21,271.73 L486.85,271.27 L487.49,270.77 L488.14,270.25 L488.78,269.70 L489.43,269.13 L490.07,268.53 L490.72,267.91 L491.36,267.26 L492.00,266.58 L492.65,265.88 L493.29,265.16 L493.94,264.41 L494.58,263.64 L495.23,262.84 L495.87,262.02 L496.51,261.17 L497.16,260.30 L497.80,259.41 L498.45,258.50 L499.09,257.56 L499.74,256.60 L500.38,255.62 L501.02,254.62 L501.67,253.59 L502.31,252.55 L502.96,251.48 L503.60,250.40 L504.25,249.29 L504.89,248.17 L505.53,247.03 L506.18,245.86 L506.82,244.68 L507.47,243.49 L508.11,242.27 L508.76,241.04 L509.40,239.79 L510.04,238.52 L510.69,237.24 L511.33,235.94 L511.98,234.62 L512.62,233.30 L513.27,231.95 L513.91,230.60 L514.55,229.23 L515.20,227.84 L515.84,226.45 L516.49,225.04 L517.13,223.62 L517.78,222.19 L518.42,220.75 L519.06,219.30 L519.71,217.84 L520.35,216.37 L521.00,214.89 L521.64,213.40 L522.29,211.90 L522.93,210.40 L523.57,208.89 L524.22,207.37 L524.86,205.85 L525.51,204.32 L526.15,202.79 L526.80,201.25 L527.44,199.71 L528.08,198.17 L528.73,196.62 L529.37,195.07 L530.02,193.51 L530.66,191.96 L531.31,190.41 L531.95,188.85" stroke="#0000ff"/>
</g>
<g stroke="#444444" stroke-width="1" fill="none">
<rect x="80.5" y="71.5" width="451.0" height="235.8"/>
<path d="M145.00 307.30V301.30M145.00 71.50V77.50"/>
<path d="M209.80 307.30V301.30M209.80 71.50V77.50"/>
<path d="M273.70 307.30V301.30M273.70 71.50V77.50"/>
<path d="M338.50 307.30V301.30M338.50 71.50V77.50"/>
<path d="M402.50 307.30V301.30M402.50 71.50V77.50"/>
<path d="M467.50 307.30V301.30M467.50 71.50V77.50"/>
<path d="M80.50 111.40H86.50M531.50 111.40H525.50"/>
<path d="M80.50 149.50H86.50M531.50 149.50H525.50"/>
<path d="M80.50 189.40H86.50M531.50 189.40H525.50"/>
<path d="M80.50 228.40H86.50M531.50 228.40H525.50"/>
<path d="M80.50 267.40H86.50M531.50 267.40H525.50"/>
</g>
<text transform="translate(81.00 320.80) scale(0.930 1)" text-anchor="middle">0</text>
<text transform="translate(145.40 320.80) scale(0.930 1)" text-anchor="middle">1</text>
<text transform="translate(210.40 320.80) scale(0.930 1)" text-anchor="middle">2</text>
<text transform="translate(275.00 320.80) scale(0.930 1)" text-anchor="middle">3</text>
<text transform="translate(338.70 320.80) scale(0.930 1)" text-anchor="middle">4</text>
<text transform="translate(403.00 320.80) scale(0.930 1)" text-anchor="middle">5</text>
<text transform="translate(467.60 320.80) scale(0.930 1)" text-anchor="middle">6</text>
<text transform="translate(531.00 320.80) scale(0.930 1)" text-anchor="middle">7</text>
<text transform="translate(76.40 75.20) scale(0.930 1)" text-anchor="end">600</text>
<text transform="translate(76.40 115.50) scale(0.930 1)" text-anchor="end">400</text>
<text transform="translate(76.40 152.80) scale(0.930 1)" text-anchor="end">200</text>
<text transform="translate(76.40 193.80) scale(0.930 1)" text-anchor="end">0</text>
<text transform="translate(73.40 234.60) scale(0.930 1)" text-anchor="end">-200</text>
<text transform="translate(73.40 272.70) scale(0.930 1)" text-anchor="end">-400</text>
<text transform="translate(73.40 313.00) scale(0.930 1)" text-anchor="end">-600</text>
<text transform="translate(310.50 334.30) scale(1.000 1)" text-anchor="middle" style="font-size:15px">Time(s)</text>
<text transform="translate(24.60 197.50) rotate(-90) scale(1.010 1)" text-anchor="middle" style="font-size:15px">Wave force of the</text>
<text transform="translate(43.30 197.70) rotate(-90) scale(1.010 1)" text-anchor="middle" style="font-size:15px">multi-type floating bodies (N)</text>
<rect x="307.5" y="10.5" width="210" height="52.5" fill="#fff" stroke="#444444" stroke-width="1"/>
<g fill="none" stroke-width="1.8">
<path d="M314.5 21.3H373.7" stroke="#00ff00" stroke-dasharray="13.5 3 5 3 5 3"/>
<path d="M314.5 36.5H373.7" stroke="#ff0000" stroke-dasharray="13.4 3.3 4.7 3.3"/>
<path d="M314.5 52.0H373.7" stroke="#0000ff"/>
</g>
<text transform="translate(377.00 25.90) scale(1.004 1)" text-anchor="start" style="font-size:15px">Horizontal rectangular</text>
<text transform="translate(377.20 40.40) scale(1.004 1)" text-anchor="start" style="font-size:15px">Vertical cylinder</text>
<text transform="translate(379.80 55.90) scale(1.004 1)" text-anchor="start" style="font-size:15px">Sphere</text>
</svg></body></html>
